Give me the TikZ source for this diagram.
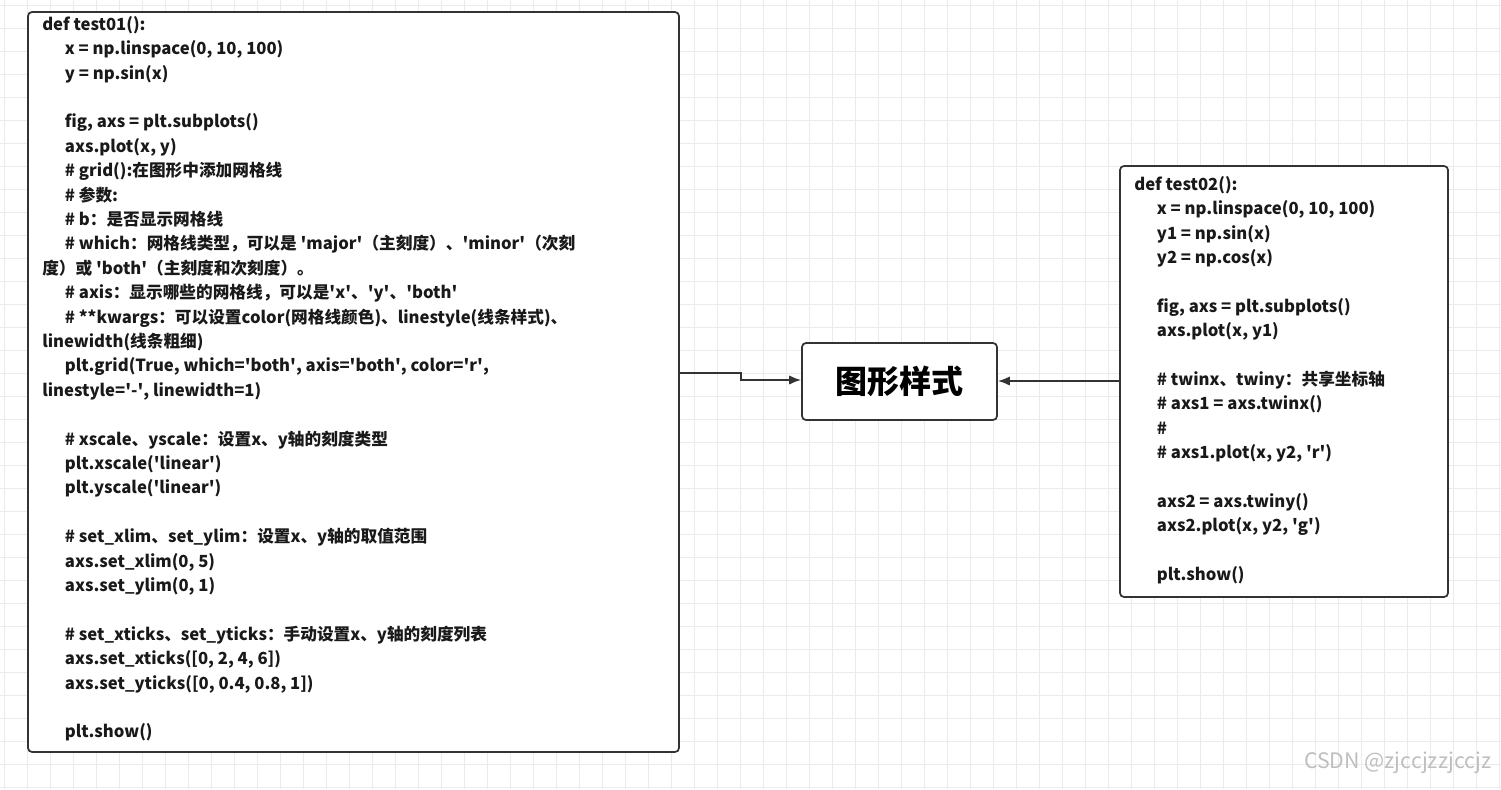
\documentclass[tikz,border=0pt]{standalone}
\usetikzlibrary{arrows.meta}
\usepackage{fontspec}
\setmainfont{Noto Sans CJK SC}[Ligatures=ResetAll]
\newcommand\qq{\textquotesingle}
\newcommand\ind{\hspace*{17pt}}
\begin{document}
\begin{tikzpicture}[x=0.75pt,y=-0.75pt,
  box/.style={draw=black!80,line width=1.3pt,rounded corners=3pt,fill=white},
  code/.style={anchor=north west,align=left,inner sep=0pt,font=\bfseries\fontsize{12.5pt}{18.3pt}\selectfont,text=black!90},
  arr/.style={draw=black!80,line width=1.3pt,-{Latex[length=9pt,width=7pt]}}]
\useasboundingbox (0,0) rectangle (1501,789);
\fill[white] (0,0) rectangle (1501,789);
\foreach \i in {0,...,65} \draw[black!8,line width=0.6pt] (\i*23+4,0) -- (\i*23+4,789);
\foreach \i in {0,...,34} \draw[black!8,line width=0.6pt] (0,\i*23+5) -- (1501,\i*23+5);
\draw[box] (28,12) rectangle (679,752);
\node[code] (t1) at (42,16) {def test01():\\
\ind x = np.linspace(0, 10, 100)\\
\ind y = np.sin(x)\\
\\
\ind fig, axs = plt.subplots()\\
\ind axs.plot(x, y)\\
\ind \# grid():在图形中添加网格线\\
\ind \# 参数:\\
\ind \# b：是否显示网格线\\
\ind \# which：网格线类型，可以是 \qq major\qq （主刻度）、\qq minor\qq （次刻\\
度）或 \qq both\qq （主刻度和次刻度）。\\
\ind \# axis：显示哪些的网格线，可以是\qq x\qq 、\qq y\qq 、\qq both\qq\\
\ind \# **kwargs：可以设置color(网格线颜色)、linestyle(线条样式)、\\
linewidth(线条粗细)\\
\ind plt.grid(True, which=\qq both\qq , axis=\qq both\qq , color=\qq r\qq ,\\
linestyle=\qq -\qq , linewidth=1)\\
\\
\ind \# xscale、yscale：设置x、y轴的刻度类型\\
\ind plt.xscale(\qq linear\qq )\\
\ind plt.yscale(\qq linear\qq )\\
\\
\ind \# set\_xlim、set\_ylim：设置x、y轴的取值范围\\
\ind axs.set\_xlim(0, 5)\\
\ind axs.set\_ylim(0, 1)\\
\\
\ind \# set\_xticks、set\_yticks：手动设置x、y轴的刻度列表\\
\ind axs.set\_xticks([0, 2, 4, 6])\\
\ind axs.set\_yticks([0, 0.4, 0.8, 1])\\
\\
\ind plt.show()};
\draw[box] (1120,166) rectangle (1448,597);
\node[code] (t2) at (1134,176) {def test02():\\
\ind x = np.linspace(0, 10, 100)\\
\ind y1 = np.sin(x)\\
\ind y2 = np.cos(x)\\
\\
\ind fig, axs = plt.subplots()\\
\ind axs.plot(x, y1)\\
\\
\ind \# twinx、twiny：共享坐标轴\\
\ind \# axs1 = axs.twinx()\\
\ind \#\\
\ind \# axs1.plot(x, y2, \qq r\qq )\\
\\
\ind axs2 = axs.twiny()\\
\ind axs2.plot(x, y2, \qq g\qq )\\
\\
\ind plt.show()};
\node[box,minimum width=195*0.75pt,minimum height=77*0.75pt,font=\bfseries\fontsize{24pt}{28pt}\selectfont] (c) at (899.5,381.5) {图形样式};
\coordinate (l) at (679,373);
\coordinate (r) at (1120,381);
\draw[arr] (l) -- (741,373) -- (741,380) -- (c.west|-0,380);
\draw[arr] (r) -- (c.east|-r);
\node[anchor=south east,text=black!25,font=\fontsize{16pt}{18pt}\selectfont] (w) at (1496,778) {CSDN @zjccjzzjccjz};
\end{tikzpicture}
\end{document}
